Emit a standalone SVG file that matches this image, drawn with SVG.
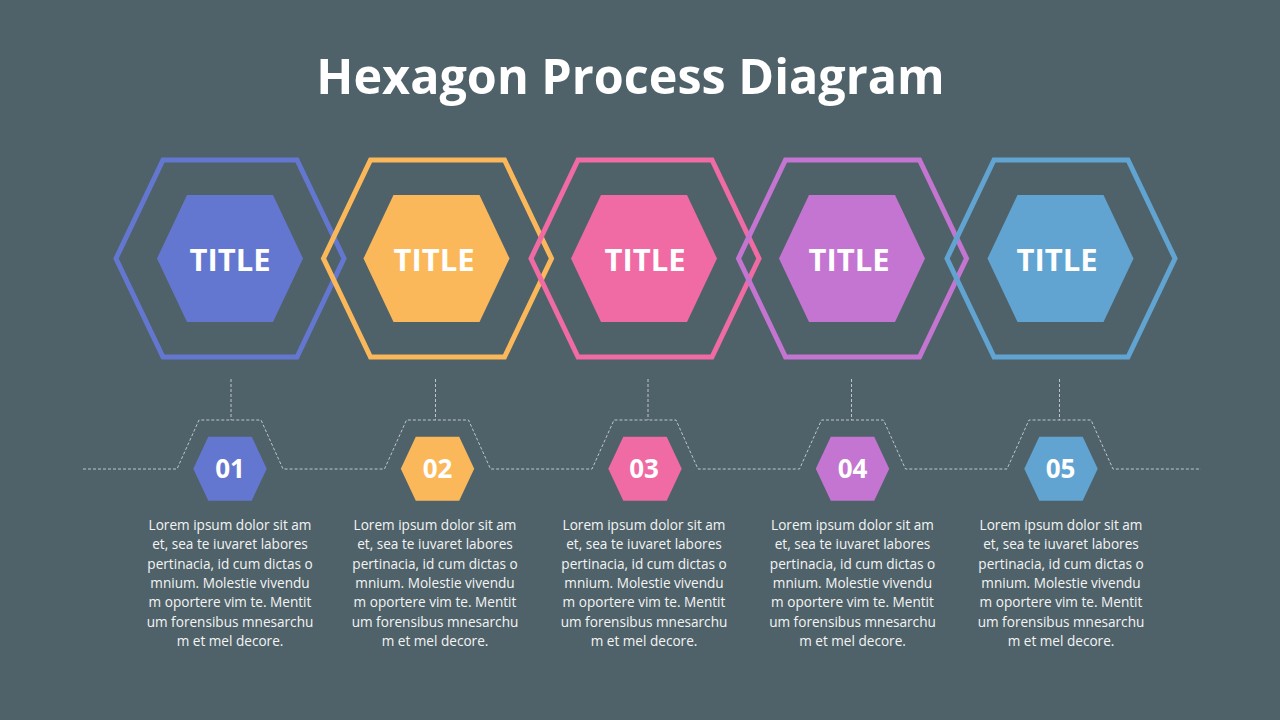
<svg xmlns="http://www.w3.org/2000/svg" width="1280" height="720" viewBox="0 0 1280 720">
<style>
.bg{fill:#4F6269}
.title{font-family:"Open Sans","Noto Sans",sans-serif;font-weight:700;font-size:48.5px;fill:#FFFFFF;text-anchor:middle}
.outer{fill:none;stroke-width:5;stroke-linejoin:miter}
.htxt{font-family:"Open Sans","Noto Sans",sans-serif;font-weight:700;font-size:31px;fill:#FFFFFF;text-anchor:middle}
.ntxt{font-family:"Open Sans","Noto Sans",sans-serif;font-weight:700;font-size:26px;fill:#FFFFFF;text-anchor:middle}
.body{font-family:"Open Sans","Liberation Sans",sans-serif;font-size:13.6px;fill:#F4F4F4;text-anchor:middle}
.dash{fill:none;stroke:#BFC5C8;stroke-width:1;stroke-dasharray:3 2}
.c1{stroke:#6477D0;fill:#6477D0}
.c2{stroke:#FBB85B;fill:#FBB85B}
.c3{stroke:#F06AA4;fill:#F06AA4}
.c4{stroke:#C475D1;fill:#C475D1}
.c5{stroke:#62A4D1;fill:#62A4D1}
</style>
<defs>
<polygon id="outerHex" points="-114,0 -67,-98.5 67,-98.5 114,0 67,98.5 -67,98.5"/>
<polygon id="innerHex" points="-73,0 -43,-63.5 43,-63.5 73,0 43,63.5 -43,63.5"/>
<polygon id="numHex" points="-36.7,0 -21.7,-32 21.7,-32 36.7,0 21.7,32 -21.7,32"/>
</defs>
<rect class="bg" x="0" y="0" width="1280" height="720"/>
<text class="title" x="630.5" y="94">Hexagon Process Diagram</text>

<g id="connectors">
<path class="dash" d="M83,469 H177 L199,420 H261 L283,469 H384.5 L406.5,420 H468.5 L490.5,469 H592 L614,420 H676 L698,469 H799.5 L821.5,420 H883.5 L905.5,469 H1007 L1029,420 H1091 L1113,469 H1201"/>
<path class="dash" d="M231,379 V420 M435.5,379 V420 M648,379 V420 M851.5,379 V420 M1059.5,379 V420"/>
</g>

<g id="step1">
<use href="#outerHex" class="outer c1" x="230" y="258.5" style="fill:none"/>
<use href="#innerHex" class="c1" x="230" y="258.5" style="stroke:none"/>
<text class="htxt" x="230" y="270.5">TITLE</text>
<use href="#numHex" class="c1" x="230" y="468.7" style="stroke:none"/>
<text class="ntxt" x="230" y="477.5">01</text>
<text class="body" x="230" y="530"><tspan x="230" dy="0">Lorem ipsum dolor sit am</tspan><tspan x="230" dy="19.35">et, sea te iuvaret labores</tspan><tspan x="230" dy="19.35">pertinacia, id cum dictas o</tspan><tspan x="230" dy="19.35">mnium.  Molestie vivendu</tspan><tspan x="230" dy="19.35">m oportere vim te. Mentit</tspan><tspan x="230" dy="19.35">um forensibus mnesarchu</tspan><tspan x="230" dy="19.35">m et mel decore.</tspan></text>
</g>

<g id="step2">
<use href="#outerHex" class="outer c2" x="437.5" y="258.5" style="fill:none"/>
<use href="#innerHex" class="c2" x="436.5" y="258.5" style="stroke:none"/>
<text class="htxt" x="434" y="270.5">TITLE</text>
<use href="#numHex" class="c2" x="437.5" y="468.7" style="stroke:none"/>
<text class="ntxt" x="437.5" y="477.5">02</text>
<text class="body" x="435" y="530"><tspan x="435" dy="0">Lorem ipsum dolor sit am</tspan><tspan x="435" dy="19.35">et, sea te iuvaret labores</tspan><tspan x="435" dy="19.35">pertinacia, id cum dictas o</tspan><tspan x="435" dy="19.35">mnium.  Molestie vivendu</tspan><tspan x="435" dy="19.35">m oportere vim te. Mentit</tspan><tspan x="435" dy="19.35">um forensibus mnesarchu</tspan><tspan x="435" dy="19.35">m et mel decore.</tspan></text>
</g>

<g id="step3">
<use href="#outerHex" class="outer c3" x="645" y="258.5" style="fill:none"/>
<use href="#innerHex" class="c3" x="644" y="258.5" style="stroke:none"/>
<text class="htxt" x="645" y="270.5">TITLE</text>
<use href="#numHex" class="c3" x="645" y="468.7" style="stroke:none"/>
<text class="ntxt" x="644" y="477.5">03</text>
<text class="body" x="644" y="530"><tspan x="644" dy="0">Lorem ipsum dolor sit am</tspan><tspan x="644" dy="19.35">et, sea te iuvaret labores</tspan><tspan x="644" dy="19.35">pertinacia, id cum dictas o</tspan><tspan x="644" dy="19.35">mnium.  Molestie vivendu</tspan><tspan x="644" dy="19.35">m oportere vim te. Mentit</tspan><tspan x="644" dy="19.35">um forensibus mnesarchu</tspan><tspan x="644" dy="19.35">m et mel decore.</tspan></text>
</g>

<g id="step4">
<use href="#outerHex" class="outer c4" x="852.5" y="258.5" style="fill:none"/>
<use href="#innerHex" class="c4" x="852" y="258.5" style="stroke:none"/>
<text class="htxt" x="849" y="270.5">TITLE</text>
<use href="#numHex" class="c4" x="852.5" y="468.7" style="stroke:none"/>
<text class="ntxt" x="852.5" y="477.5">04</text>
<text class="body" x="852.5" y="530"><tspan x="852.5" dy="0">Lorem ipsum dolor sit am</tspan><tspan x="852.5" dy="19.35">et, sea te iuvaret labores</tspan><tspan x="852.5" dy="19.35">pertinacia, id cum dictas o</tspan><tspan x="852.5" dy="19.35">mnium.  Molestie vivendu</tspan><tspan x="852.5" dy="19.35">m oportere vim te. Mentit</tspan><tspan x="852.5" dy="19.35">um forensibus mnesarchu</tspan><tspan x="852.5" dy="19.35">m et mel decore.</tspan></text>
</g>

<g id="step5">
<use href="#outerHex" class="outer c5" x="1061" y="258.5" style="fill:none"/>
<use href="#innerHex" class="c5" x="1060.5" y="258.5" style="stroke:none"/>
<text class="htxt" x="1057" y="270.5">TITLE</text>
<use href="#numHex" class="c5" x="1061" y="468.7" style="stroke:none"/>
<text class="ntxt" x="1060.5" y="477.5">05</text>
<text class="body" x="1061" y="530"><tspan x="1061" dy="0">Lorem ipsum dolor sit am</tspan><tspan x="1061" dy="19.35">et, sea te iuvaret labores</tspan><tspan x="1061" dy="19.35">pertinacia, id cum dictas o</tspan><tspan x="1061" dy="19.35">mnium.  Molestie vivendu</tspan><tspan x="1061" dy="19.35">m oportere vim te. Mentit</tspan><tspan x="1061" dy="19.35">um forensibus mnesarchu</tspan><tspan x="1061" dy="19.35">m et mel decore.</tspan></text>
</g>
</svg>
